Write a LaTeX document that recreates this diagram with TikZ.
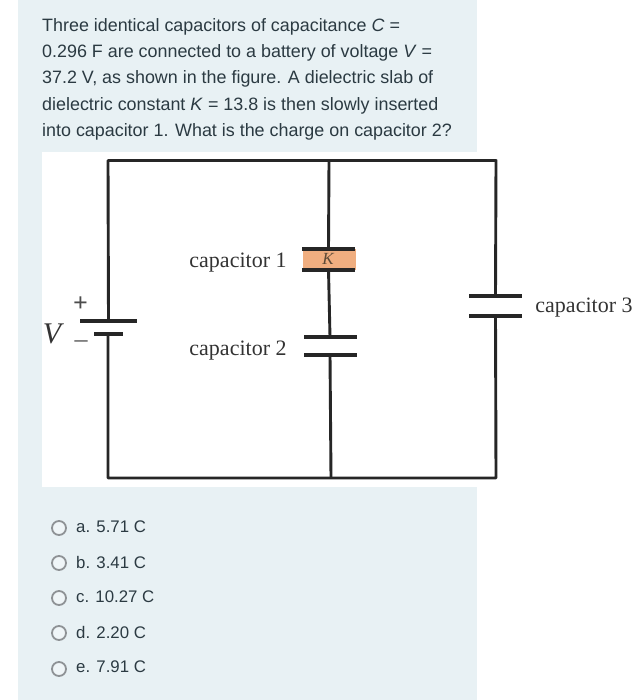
\documentclass[tikz,border=0pt]{standalone}
\usepackage{fontspec}
\setmainfont{Liberation Sans}
\newfontfamily\figfont{Liberation Serif}
\usetikzlibrary{positioning}
\definecolor{panelblue}{HTML}{E8F1F4}
\definecolor{slabfill}{HTML}{F0AE80}
\definecolor{inktext}{HTML}{2B3A42}
\definecolor{figtext}{HTML}{333333}
\definecolor{radiogray}{HTML}{8E9295}

\begin{document}
\begin{tikzpicture}[x=1pt,y=-1pt,
    wire/.style={line width=2.9pt,line join=round,draw=black!85},
    plate/.style={fill=black!85,inner sep=0pt,minimum height=3.4pt,minimum width=#1},
    figlabel/.style={text=figtext,font=\figfont\fontsize{22}{24}\selectfont,inner sep=0pt},
    choice/.style={text=inktext,font=\fontsize{16.8}{18}\selectfont,anchor=west,inner sep=0pt},
    radio/.style={circle,draw=radiogray,fill=white!30!panelblue,line width=1.8pt,minimum size=14pt,inner sep=0pt}]
\useasboundingbox (0,0) rectangle (639,700);
\fill [panelblue] (18,0) rectangle (477,700);
\fill [white]     (42,152) rectangle (477,487);

\node [text=inktext,align=left,anchor=north west,inner sep=0pt,
       font=\fontsize{17.9}{26.3}\selectfont] (question) at (42,18)
    {Three identical capacitors of capacitance \textit{C} =\\
     0.296 F are connected to a battery of voltage \textit{V} =\\
     37.2 V, as shown in the figure. A dielectric slab of\\
     dielectric constant \textit{K} = 13.8 is then slowly inserted\\
     into capacitor 1. What is the charge on capacitor 2?};

% slab goes under the plates
\node [fill=slabfill,minimum width=53pt,minimum height=21pt,inner sep=0pt] (slab) at (329,259.5) {};
\node [text=figtext!70!brown,font=\figfont\itshape\fontsize{17}{18}\selectfont,inner sep=0pt] (slabK) at (328,259) {K};

\node [plate=57pt] (batplus)  at (108.5,321) {};
\node [plate=29pt] (batminus) at (108,334)   {};
\node [plate=53pt] (capAtop)  at (328.5,249) {};
\node [plate=53pt] (capAbot)  at (328.5,270) {};
\node [plate=53pt] (capBtop)  at (330,337)   {};
\node [plate=53pt] (capBbot)  at (330,355)   {};
\node [plate=53pt] (capCtop)  at (495.5,296) {};
\node [plate=53pt] (capCbot)  at (495.5,316) {};

\coordinate (topleft)  at (108,160.5);
\coordinate (topmid)   at (329,160.5);
\coordinate (topright) at (496,160.5);
\coordinate (botleft)  at (108,478);
\coordinate (botmid)   at (331,478);
\coordinate (botright) at (496,478);

\draw [wire] (batplus.center) -- (topleft) -- (topright) -- (capCtop.center);
\draw [wire] (batminus.center) -- (botleft) -- (botright) -- (capCbot.center);
\draw [wire] (topmid) -- (capAtop.center);
\draw [wire] (capAbot.center) -- (capBtop.center);
\draw [wire] (capBbot.center) -- (botmid);

\node [figlabel] (labelA) at (238,263)   {capacitor 1};
\node [figlabel] (labelB) at (238,351)   {capacitor 2};
\node [figlabel] (labelC) at (584,308)   {capacitor 3};
\node [figlabel,font=\figfont\itshape\fontsize{30}{32}\selectfont] (labelV) at (52,334) {V};
\node [figlabel,text=black!70,font=\figfont\bfseries\fontsize{26}{28}\selectfont] (labelplus)  at (80.5,304) {+};
\node [figlabel,text=black!70,font=\figfont\fontsize{26}{28}\selectfont] (labelminus) at (81,344) {–};

\node [radio]  (radioa)  at (59,528) {};
\node [radio]  (radiob)  at (59,563) {};
\node [radio]  (radioc)  at (59,598) {};
\node [radio]  (radiod)  at (59,633) {};
\node [radio]  (radioe)  at (59,669) {};
\node [choice] (choicea) at (76,527) {a. 5.71 C};
\node [choice] (choiceb) at (76,562) {b. 3.41 C};
\node [choice] (choicec) at (76,597) {c. 10.27 C};
\node [choice] (choiced) at (76,632) {d. 2.20 C};
\node [choice] (choicee) at (76,667) {e. 7.91 C};
\end{tikzpicture}
\end{document}
